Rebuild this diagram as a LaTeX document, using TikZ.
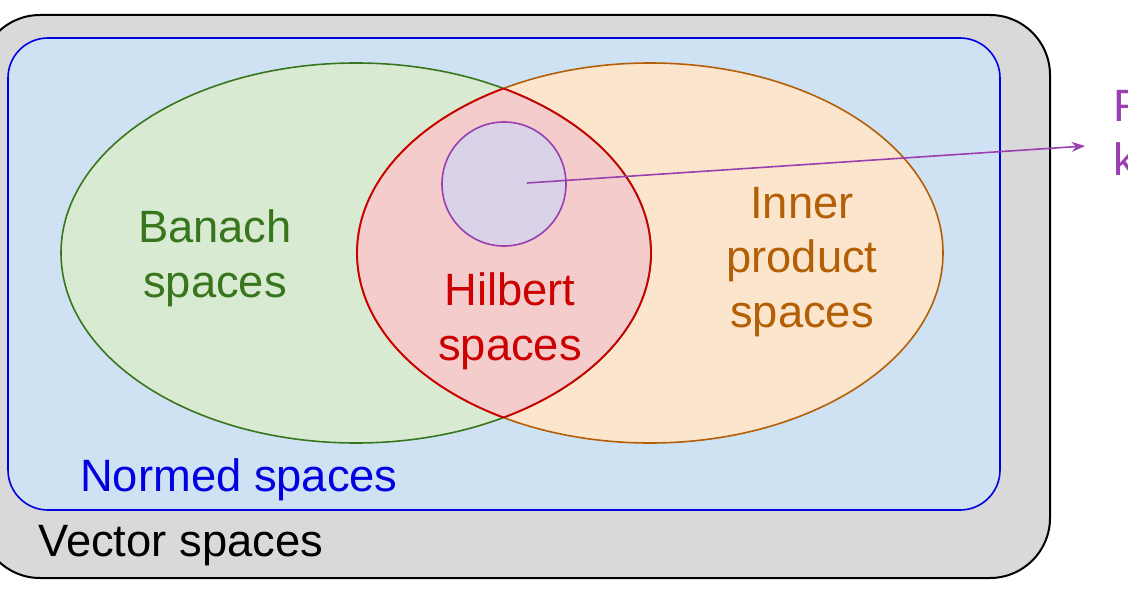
\documentclass[tikz,border=0pt]{standalone}
\usepackage{fontspec}
\setmainfont{Liberation Sans}
\usetikzlibrary{arrows.meta}
\definecolor{gfill}{HTML}{D9EAD3}\definecolor{gline}{HTML}{38761D}
\definecolor{ofill}{HTML}{FCE5CD}\definecolor{oline}{HTML}{B45F06}
\definecolor{rfill}{HTML}{F4CCCC}\definecolor{rline}{HTML}{CC0000}
\definecolor{bfill}{HTML}{CFE2F3}\definecolor{bline}{HTML}{0000E0}
\definecolor{pfill}{HTML}{D9D2E9}\definecolor{pline}{HTML}{9B3FB0}
\definecolor{vfill}{HTML}{D9D9D9}
\tikzset{lab/.style={font=\fontsize{34}{41}\selectfont, align=center, inner sep=0pt}}
\begin{document}
\begin{tikzpicture}[x=0.75pt,y=-0.75pt]
\useasboundingbox (0,0) rectangle (1128,592);
\clip (0,0) rectangle (1128,592);
\fill[white] (0,0) rectangle (1128,592);
\draw[line width=1.5pt, fill=vfill, rounded corners=45pt] (-20,15) rectangle (1050,578);
\draw[line width=1.2pt, bline, fill=bfill, rounded corners=30pt] (8,38) rectangle (1000,510);
\def\GE{(356,253) ellipse [x radius=295, y radius=190]}
\def\OE{(650,253) ellipse [x radius=293, y radius=190]}
\fill[gfill] \GE; \fill[ofill] \OE;
\begin{scope}\clip \GE; \fill[rfill] \OE; \end{scope}
\draw[gline, line width=1.2pt] \GE;
\draw[oline, line width=1.2pt] \OE;
\begin{scope}\clip \GE; \draw[rline, line width=1.4pt] \OE; \end{scope}
\begin{scope}\clip \OE; \draw[rline, line width=1.4pt] \GE; \end{scope}
\node[circle, draw=pline, fill=pfill, line width=1.2pt, minimum size=124*0.75pt, inner sep=0pt] (rk) at (504,184) {};
\coordinate (a0) at (527,183);
\node[lab, text=pline, align=left, anchor=west] (rkhs) at (1113,133) {R\\k};
\draw[pline, line width=1.2pt, -{Stealth[length=10pt]}] (a0) -- (1085,146);
\node[lab, text=gline] (ban) at (215,258) {Banach\\spaces};
\node[lab, text=rline] (hil) at (510,321) {Hilbert\\spaces};
\node[lab, text=oline] (inn) at (802,262) {Inner\\product\\spaces};
\node[lab, text=bline, anchor=west] (nor) at (80,480) {Normed spaces};
\node[lab, anchor=west] (vec) at (38,546) {Vector spaces};
\end{tikzpicture}
\end{document}
